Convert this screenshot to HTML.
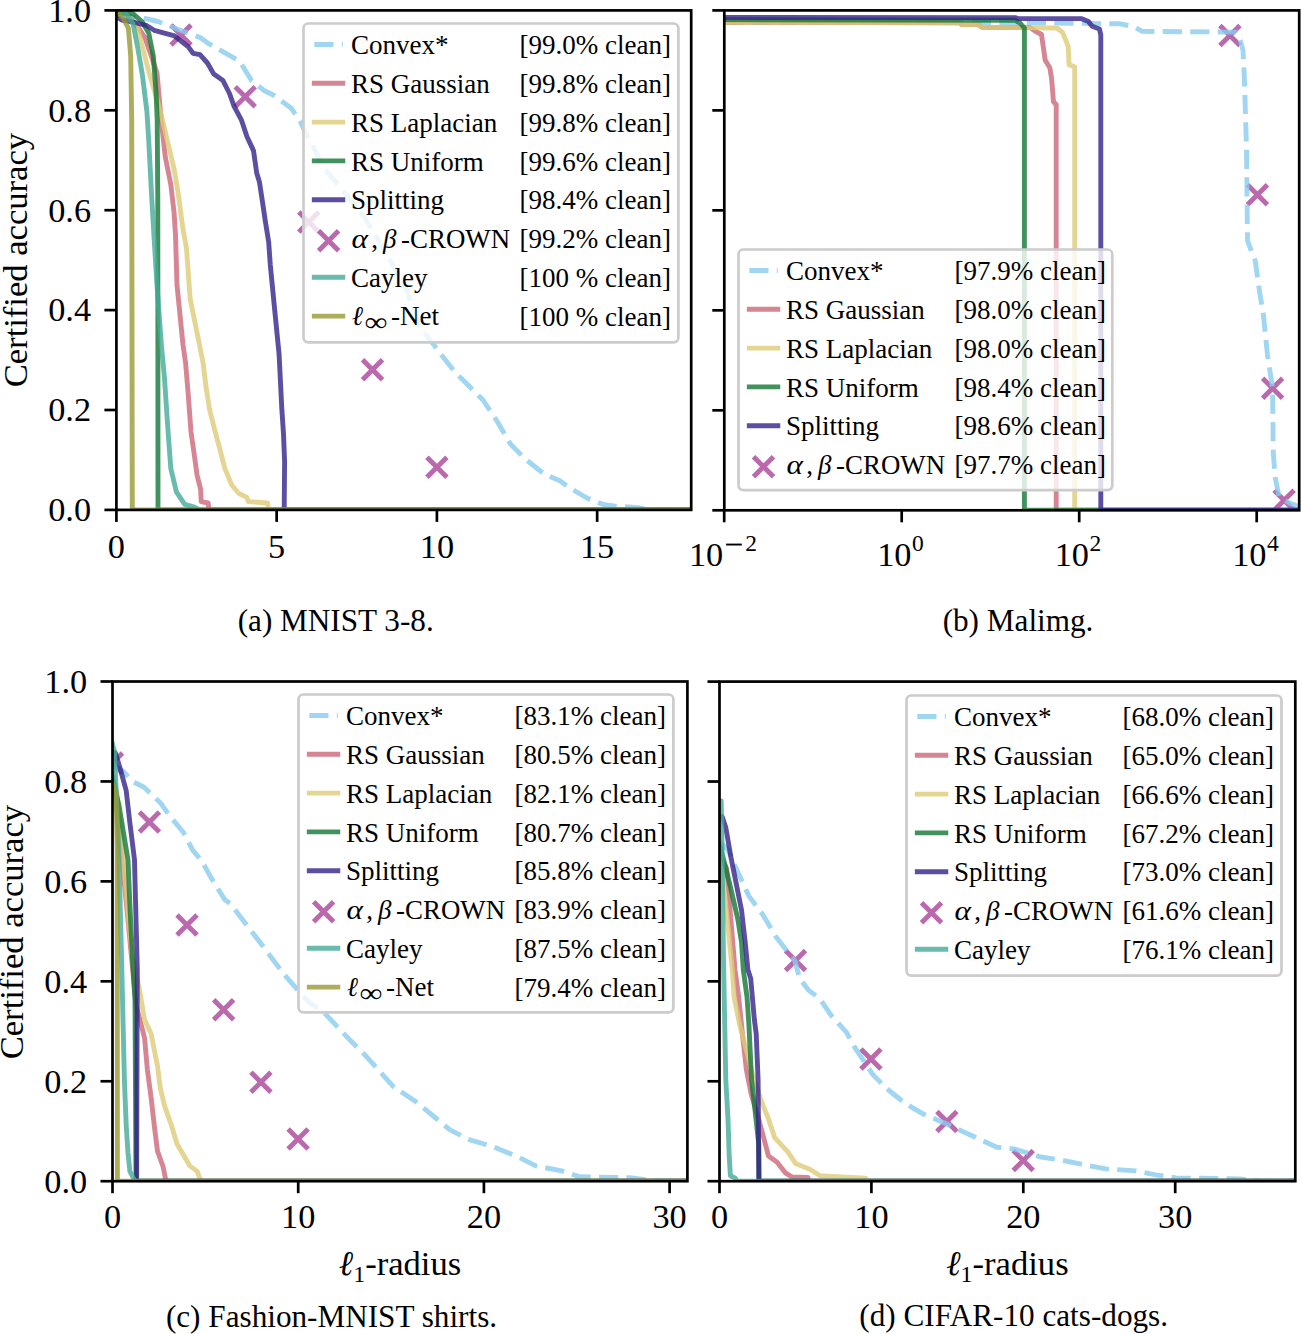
<!DOCTYPE html>
<html><head><meta charset="utf-8"><style>
html,body{margin:0;padding:0;background:#fff;width:1302px;height:1334px;overflow:hidden;}
svg{display:block;font-family:"Liberation Serif", serif;}
</style></head><body>
<svg width="1302" height="1334" viewBox="0 0 1302 1334" font-family='"Liberation Serif", serif'>
<rect x="0" y="0" width="1302" height="1334" fill="#ffffff"/>
<defs>
<clipPath id="clipa"><rect x="116.4" y="10.4" width="574.8" height="499.5"/></clipPath>
<clipPath id="clipb"><rect x="724.3" y="10.4" width="574.9" height="499.9"/></clipPath>
<clipPath id="clipc"><rect x="112.5" y="681.5" width="574.9" height="499.7"/></clipPath>
<clipPath id="clipd"><rect x="719.5" y="681.6" width="575.8" height="499.6"/></clipPath>
</defs>
<path d="M171.0,24.9 L191.0,44.9 M171.0,44.9 L191.0,24.9" stroke="#AA4499" stroke-opacity="0.8" stroke-width="4.9" stroke-linecap="butt" fill="none" clip-path="url(#clipa)"/>
<path d="M235.2,86.7 L255.2,106.7 M235.2,106.7 L255.2,86.7" stroke="#AA4499" stroke-opacity="0.8" stroke-width="4.9" stroke-linecap="butt" fill="none" clip-path="url(#clipa)"/>
<path d="M298.8,211.9 L318.8,231.9 M298.8,231.9 L318.8,211.9" stroke="#AA4499" stroke-opacity="0.8" stroke-width="4.9" stroke-linecap="butt" fill="none" clip-path="url(#clipa)"/>
<path d="M362.5,359.8 L382.5,379.8 M362.5,379.8 L382.5,359.8" stroke="#AA4499" stroke-opacity="0.8" stroke-width="4.9" stroke-linecap="butt" fill="none" clip-path="url(#clipa)"/>
<path d="M426.9,457.3 L446.9,477.3 M426.9,477.3 L446.9,457.3" stroke="#AA4499" stroke-opacity="0.8" stroke-width="4.9" stroke-linecap="butt" fill="none" clip-path="url(#clipa)"/>
<path d="M116.4,15.4 L141.3,17.4 L157.9,21.5 L174.5,28.0 L200.3,37.6 L207.4,42.8 L218.4,49.2 L239.6,61.2 L251.6,80.6 L264.5,90.7 L273.7,95.3 L291.2,108.2 L300.0,121.0 L308.0,138.0 L326.0,170.4 L344.0,192.0 L365.6,219.0 L387.2,255.0 L407.0,291.0 L419.6,327.0 L434.0,345.0 L440.6,354.0 L455.3,372.4 L470.0,387.1 L483.0,400.0 L497.7,422.2 L510.6,444.3 L525.3,459.0 L543.8,473.8 L560.0,480.8 L568.6,487.2 L586.9,498.0 L603.0,504.4 L613.8,506.0 L624.5,506.6 L638.5,507.6 L650.0,509.9 L700.0,509.9" fill="none" stroke="#88CCEE" stroke-opacity="0.8" stroke-width="4.9" stroke-linejoin="round" stroke-dasharray="19.2 8.3" stroke-linecap="butt" clip-path="url(#clipa)"/>
<path d="M116.4,11.4 L127.0,14.0 L137.6,26.6 L145.0,37.6 L157.0,72.7 L161.2,120.0 L165.3,156.9 L170.8,184.5 L174.0,212.0 L175.5,235.0 L177.0,285.0 L183.0,345.0 L185.6,363.0 L188.3,395.3 L191.0,432.0 L194.3,455.0 L197.1,475.3 L200.6,489.1 L201.2,501.6 L208.2,503.0 L208.9,509.9 L700.0,509.9" fill="none" stroke="#CC6677" stroke-opacity="0.8" stroke-width="4.9" stroke-linejoin="round" stroke-linecap="square" clip-path="url(#clipa)"/>
<path d="M116.4,11.4 L127.0,14.0 L137.6,28.4 L149.6,74.5 L157.9,102.2 L162.5,120.0 L169.0,147.6 L174.5,170.7 L178.2,193.7 L182.8,228.0 L186.5,248.4 L190.2,299.1 L198.5,340.0 L203.1,363.0 L205.9,386.1 L209.5,409.1 L214.1,427.6 L220.6,451.8 L224.8,468.4 L231.7,485.0 L238.6,493.3 L246.9,497.4 L248.3,501.6 L267.6,503.0 L268.3,509.9 L700.0,509.9" fill="none" stroke="#DDCC77" stroke-opacity="0.8" stroke-width="4.9" stroke-linejoin="round" stroke-linecap="square" clip-path="url(#clipa)"/>
<path d="M116.4,12.4 L133.0,13.7 L142.3,22.0 L148.7,33.0 L153.3,56.0 L156.1,93.0 L157.2,120.0 L157.8,200.0 L158.0,509.9 L700.0,509.9" fill="none" stroke="#117733" stroke-opacity="0.8" stroke-width="4.9" stroke-linejoin="round" stroke-linecap="square" clip-path="url(#clipa)"/>
<path d="M116.4,17.0 L122.0,20.1 L133.0,22.0 L146.9,25.7 L154.2,30.3 L174.5,35.8 L188.3,46.9 L193.0,53.3 L200.0,54.7 L207.4,63.0 L213.8,74.1 L223.0,80.6 L229.5,93.5 L234.1,106.4 L241.5,120.2 L247.0,136.8 L253.5,150.6 L256.7,173.0 L259.5,182.3 L262.3,200.7 L265.0,219.1 L268.7,242.2 L270.3,265.0 L275.1,314.0 L279.1,354.5 L281.8,408.4 L283.5,434.0 L284.6,461.5 L284.2,509.9 L700.0,509.9" fill="none" stroke="#332288" stroke-opacity="0.8" stroke-width="4.9" stroke-linejoin="round" stroke-linecap="square" clip-path="url(#clipa)"/>
<path d="M116.4,10.4 L125.7,12.8 L133.0,23.8 L137.6,46.9 L142.3,74.5 L146.9,111.4 L148.7,140.0 L151.5,193.7 L154.2,239.8 L157.0,285.3 L161.4,345.0 L164.4,376.9 L168.1,432.2 L170.8,468.4 L176.4,491.9 L184.7,504.3 L194.3,507.1 L200.0,509.9 L700.0,509.9" fill="none" stroke="#44AA99" stroke-opacity="0.8" stroke-width="4.9" stroke-linejoin="round" stroke-linecap="square" clip-path="url(#clipa)"/>
<path d="M116.4,10.4 L123.8,19.2 L128.4,28.4 L130.7,56.0 L131.7,120.0 L132.1,400.0 L132.3,509.9 L700.0,509.9" fill="none" stroke="#999933" stroke-opacity="0.8" stroke-width="4.9" stroke-linejoin="round" stroke-linecap="square" clip-path="url(#clipa)"/>
<rect x="116.4" y="10.4" width="574.8" height="499.5" fill="none" stroke="#000" stroke-width="2.7" stroke-linejoin="miter"/>
<line x1="104.4" y1="509.90" x2="116.4" y2="509.90" stroke="#000" stroke-width="2.7"/>
<line x1="104.4" y1="410.00" x2="116.4" y2="410.00" stroke="#000" stroke-width="2.7"/>
<line x1="104.4" y1="310.10" x2="116.4" y2="310.10" stroke="#000" stroke-width="2.7"/>
<line x1="104.4" y1="210.20" x2="116.4" y2="210.20" stroke="#000" stroke-width="2.7"/>
<line x1="104.4" y1="110.30" x2="116.4" y2="110.30" stroke="#000" stroke-width="2.7"/>
<line x1="104.4" y1="10.40" x2="116.4" y2="10.40" stroke="#000" stroke-width="2.7"/>
<rect x="303.5" y="23.5" width="374.9" height="318.9" rx="4.8" ry="4.8" fill="#ffffff" fill-opacity="0.8" stroke="#cccccc" stroke-width="2.7"/>
<path d="M314.3,44.5 L342.8,44.5" fill="none" stroke="#88CCEE" stroke-opacity="0.8" stroke-width="4.9" stroke-linejoin="round" stroke-dasharray="19.2 8.3" stroke-linecap="butt"/>
<text x="351.1" y="54.1" font-size="27.0" text-anchor="start">Convex*</text>
<text x="519.5" y="54.1" font-size="27.0" text-anchor="start">[99.0% clean]</text>
<path d="M314.3,83.3 L342.8,83.3" fill="none" stroke="#CC6677" stroke-opacity="0.8" stroke-width="4.9" stroke-linejoin="round" stroke-linecap="square"/>
<text x="351.1" y="92.9" font-size="27.0" text-anchor="start">RS Gaussian</text>
<text x="519.5" y="92.9" font-size="27.0" text-anchor="start">[99.8% clean]</text>
<path d="M314.3,122.1 L342.8,122.1" fill="none" stroke="#DDCC77" stroke-opacity="0.8" stroke-width="4.9" stroke-linejoin="round" stroke-linecap="square"/>
<text x="351.1" y="131.7" font-size="27.0" text-anchor="start">RS Laplacian</text>
<text x="519.5" y="131.7" font-size="27.0" text-anchor="start">[99.8% clean]</text>
<path d="M314.3,160.9 L342.8,160.9" fill="none" stroke="#117733" stroke-opacity="0.8" stroke-width="4.9" stroke-linejoin="round" stroke-linecap="square"/>
<text x="351.1" y="170.5" font-size="27.0" text-anchor="start">RS Uniform</text>
<text x="519.5" y="170.5" font-size="27.0" text-anchor="start">[99.6% clean]</text>
<path d="M314.3,199.7 L342.8,199.7" fill="none" stroke="#332288" stroke-opacity="0.8" stroke-width="4.9" stroke-linejoin="round" stroke-linecap="square"/>
<text x="351.1" y="209.3" font-size="27.0" text-anchor="start">Splitting</text>
<text x="519.5" y="209.3" font-size="27.0" text-anchor="start">[98.4% clean]</text>
<path d="M318.6,230.8 L338.6,250.8 M318.6,250.8 L338.6,230.8" stroke="#AA4499" stroke-opacity="0.8" stroke-width="4.9" stroke-linecap="butt" fill="none"/>
<text x="351.5" y="248.1" font-size="27.0" text-anchor="start" font-style="italic" textLength="16.5" lengthAdjust="spacingAndGlyphs">α</text>
<text x="371.3" y="248.1" font-size="27.0" text-anchor="start">,</text>
<text x="383.0" y="248.1" font-size="27.0" text-anchor="start" font-style="italic">β</text>
<text x="401.1" y="248.1" font-size="27.0" text-anchor="start" textLength="109" lengthAdjust="spacingAndGlyphs">-CROWN</text>
<text x="519.5" y="248.1" font-size="27.0" text-anchor="start">[99.2% clean]</text>
<path d="M314.3,277.3 L342.8,277.3" fill="none" stroke="#44AA99" stroke-opacity="0.8" stroke-width="4.9" stroke-linejoin="round" stroke-linecap="square"/>
<text x="351.1" y="286.9" font-size="27.0" text-anchor="start">Cayley</text>
<text x="519.5" y="286.9" font-size="27.0" text-anchor="start">[100 % clean]</text>
<path d="M314.3,316.1 L342.8,316.1" fill="none" stroke="#999933" stroke-opacity="0.8" stroke-width="4.9" stroke-linejoin="round" stroke-linecap="square"/>
<text x="351.8" y="324.9" font-size="27.0" text-anchor="start" font-style="italic">ℓ</text>
<text x="364.5" y="330.7" font-size="27.0" text-anchor="start" textLength="23" lengthAdjust="spacingAndGlyphs">∞</text>
<text x="391.0" y="324.9" font-size="27.0" text-anchor="start">-Net</text>
<text x="519.5" y="325.7" font-size="27.0" text-anchor="start">[100 % clean]</text>
<path d="M1219.9,25.6 L1239.9,45.6 M1219.9,45.6 L1239.9,25.6" stroke="#AA4499" stroke-opacity="0.8" stroke-width="4.9" stroke-linecap="butt" fill="none" clip-path="url(#clipb)"/>
<path d="M1247.4,184.8 L1267.4,204.8 M1247.4,204.8 L1267.4,184.8" stroke="#AA4499" stroke-opacity="0.8" stroke-width="4.9" stroke-linecap="butt" fill="none" clip-path="url(#clipb)"/>
<path d="M1262.6,378.2 L1282.6,398.2 M1262.6,398.2 L1282.6,378.2" stroke="#AA4499" stroke-opacity="0.8" stroke-width="4.9" stroke-linecap="butt" fill="none" clip-path="url(#clipb)"/>
<path d="M1274.1,490.3 L1294.1,510.3 M1274.1,510.3 L1294.1,490.3" stroke="#AA4499" stroke-opacity="0.8" stroke-width="4.9" stroke-linecap="butt" fill="none" clip-path="url(#clipb)"/>
<path d="M724.3,22.5 L1000.0,22.5 L1120.0,23.8 L1133.8,26.6 L1142.1,31.4 L1236.1,32.1 L1240.3,40.4 L1243.0,50.1 L1244.4,79.1 L1246.5,148.3 L1247.5,240.7 L1255.3,261.0 L1259.4,290.7 L1263.4,315.0 L1267.5,355.0 L1272.6,388.2 L1273.2,451.9 L1275.2,477.4 L1279.0,496.5 L1289.2,502.9 L1295.5,505.4 L1310.0,510.3" fill="none" stroke="#88CCEE" stroke-opacity="0.8" stroke-width="4.9" stroke-linejoin="round" stroke-dasharray="19.2 8.3" stroke-linecap="butt" clip-path="url(#clipb)"/>
<path d="M724.3,22.2 L959.0,22.7 L962.0,24.6 L978.0,24.6 L982.0,27.3 L1030.0,27.5 L1035.0,31.0 L1041.5,34.5 L1045.2,60.3 L1049.8,67.7 L1051.6,78.7 L1053.5,101.8 L1056.2,104.5 L1056.2,510.3 L1310.0,510.3" fill="none" stroke="#CC6677" stroke-opacity="0.8" stroke-width="4.9" stroke-linejoin="round" stroke-linecap="square" clip-path="url(#clipb)"/>
<path d="M724.3,22.2 L959.0,22.7 L962.0,24.6 L978.0,24.6 L982.0,27.3 L1057.1,28.0 L1062.7,32.6 L1068.2,46.5 L1069.1,64.9 L1074.7,66.8 L1074.7,510.3 L1310.0,510.3" fill="none" stroke="#DDCC77" stroke-opacity="0.8" stroke-width="4.9" stroke-linejoin="round" stroke-linecap="square" clip-path="url(#clipb)"/>
<path d="M724.3,19.6 L1015.0,20.2 L1020.0,23.0 L1024.4,28.0 L1024.4,510.3 L1310.0,510.3" fill="none" stroke="#117733" stroke-opacity="0.8" stroke-width="4.9" stroke-linejoin="round" stroke-linecap="square" clip-path="url(#clipb)"/>
<path d="M724.3,17.4 L1015.0,17.6 L1018.0,18.6 L1081.1,18.6 L1088.5,21.6 L1092.2,26.2 L1099.5,29.0 L1100.8,35.0 L1100.8,510.3 L1310.0,510.3" fill="none" stroke="#332288" stroke-opacity="0.8" stroke-width="4.9" stroke-linejoin="round" stroke-linecap="square" clip-path="url(#clipb)"/>
<rect x="724.3" y="10.4" width="574.9" height="499.9" fill="none" stroke="#000" stroke-width="2.7" stroke-linejoin="miter"/>
<line x1="712.3" y1="510.30" x2="724.3" y2="510.30" stroke="#000" stroke-width="2.7"/>
<line x1="712.3" y1="410.32" x2="724.3" y2="410.32" stroke="#000" stroke-width="2.7"/>
<line x1="712.3" y1="310.34" x2="724.3" y2="310.34" stroke="#000" stroke-width="2.7"/>
<line x1="712.3" y1="210.36" x2="724.3" y2="210.36" stroke="#000" stroke-width="2.7"/>
<line x1="712.3" y1="110.38" x2="724.3" y2="110.38" stroke="#000" stroke-width="2.7"/>
<line x1="712.3" y1="10.40" x2="724.3" y2="10.40" stroke="#000" stroke-width="2.7"/>
<rect x="738.5" y="249.5" width="373.8" height="240.6" rx="4.8" ry="4.8" fill="#ffffff" fill-opacity="0.8" stroke="#cccccc" stroke-width="2.7"/>
<path d="M749.3,270.5 L777.8,270.5" fill="none" stroke="#88CCEE" stroke-opacity="0.8" stroke-width="4.9" stroke-linejoin="round" stroke-dasharray="19.2 8.3" stroke-linecap="butt"/>
<text x="786.1" y="280.1" font-size="27.0" text-anchor="start">Convex*</text>
<text x="954.5" y="280.1" font-size="27.0" text-anchor="start">[97.9% clean]</text>
<path d="M749.3,309.3 L777.8,309.3" fill="none" stroke="#CC6677" stroke-opacity="0.8" stroke-width="4.9" stroke-linejoin="round" stroke-linecap="square"/>
<text x="786.1" y="318.9" font-size="27.0" text-anchor="start">RS Gaussian</text>
<text x="954.5" y="318.9" font-size="27.0" text-anchor="start">[98.0% clean]</text>
<path d="M749.3,348.1 L777.8,348.1" fill="none" stroke="#DDCC77" stroke-opacity="0.8" stroke-width="4.9" stroke-linejoin="round" stroke-linecap="square"/>
<text x="786.1" y="357.7" font-size="27.0" text-anchor="start">RS Laplacian</text>
<text x="954.5" y="357.7" font-size="27.0" text-anchor="start">[98.0% clean]</text>
<path d="M749.3,386.9 L777.8,386.9" fill="none" stroke="#117733" stroke-opacity="0.8" stroke-width="4.9" stroke-linejoin="round" stroke-linecap="square"/>
<text x="786.1" y="396.5" font-size="27.0" text-anchor="start">RS Uniform</text>
<text x="954.5" y="396.5" font-size="27.0" text-anchor="start">[98.4% clean]</text>
<path d="M749.3,425.7 L777.8,425.7" fill="none" stroke="#332288" stroke-opacity="0.8" stroke-width="4.9" stroke-linejoin="round" stroke-linecap="square"/>
<text x="786.1" y="435.3" font-size="27.0" text-anchor="start">Splitting</text>
<text x="954.5" y="435.3" font-size="27.0" text-anchor="start">[98.6% clean]</text>
<path d="M753.5,456.8 L773.5,476.8 M753.5,476.8 L773.5,456.8" stroke="#AA4499" stroke-opacity="0.8" stroke-width="4.9" stroke-linecap="butt" fill="none"/>
<text x="786.5" y="474.1" font-size="27.0" text-anchor="start" font-style="italic" textLength="16.5" lengthAdjust="spacingAndGlyphs">α</text>
<text x="806.3" y="474.1" font-size="27.0" text-anchor="start">,</text>
<text x="818.0" y="474.1" font-size="27.0" text-anchor="start" font-style="italic">β</text>
<text x="836.1" y="474.1" font-size="27.0" text-anchor="start" textLength="109" lengthAdjust="spacingAndGlyphs">-CROWN</text>
<text x="954.5" y="474.1" font-size="27.0" text-anchor="start">[97.7% clean]</text>
<path d="M102.5,753.0 L122.5,773.0 M102.5,773.0 L122.5,753.0" stroke="#AA4499" stroke-opacity="0.8" stroke-width="4.9" stroke-linecap="butt" fill="none" clip-path="url(#clipc)"/>
<path d="M139.4,812.0 L159.4,832.0 M139.4,832.0 L159.4,812.0" stroke="#AA4499" stroke-opacity="0.8" stroke-width="4.9" stroke-linecap="butt" fill="none" clip-path="url(#clipc)"/>
<path d="M177.0,915.1 L197.0,935.1 M177.0,935.1 L197.0,915.1" stroke="#AA4499" stroke-opacity="0.8" stroke-width="4.9" stroke-linecap="butt" fill="none" clip-path="url(#clipc)"/>
<path d="M213.6,999.8 L233.6,1019.8 M213.6,1019.8 L233.6,999.8" stroke="#AA4499" stroke-opacity="0.8" stroke-width="4.9" stroke-linecap="butt" fill="none" clip-path="url(#clipc)"/>
<path d="M250.9,1072.2 L270.9,1092.2 M250.9,1092.2 L270.9,1072.2" stroke="#AA4499" stroke-opacity="0.8" stroke-width="4.9" stroke-linecap="butt" fill="none" clip-path="url(#clipc)"/>
<path d="M288.1,1129.0 L308.1,1149.0 M288.1,1149.0 L308.1,1129.0" stroke="#AA4499" stroke-opacity="0.8" stroke-width="4.9" stroke-linecap="butt" fill="none" clip-path="url(#clipc)"/>
<path d="M112.5,766.0 L123.4,771.3 L132.6,781.5 L143.7,787.0 L160.3,802.7 L169.5,815.6 L183.3,832.2 L192.6,850.0 L201.8,861.0 L211.0,877.6 L224.8,899.8 L230.4,903.7 L245.7,923.8 L265.7,949.9 L284.1,974.5 L307.2,1000.6 L326.0,1014.6 L347.5,1037.6 L366.0,1056.1 L393.6,1086.8 L416.7,1102.2 L435.1,1117.5 L450.0,1129.9 L469.9,1139.9 L493.9,1146.9 L517.9,1156.9 L535.8,1165.9 L561.8,1170.9 L579.8,1176.8 L629.7,1177.8 L660.0,1181.2 L700.0,1181.2" fill="none" stroke="#88CCEE" stroke-opacity="0.8" stroke-width="4.9" stroke-linejoin="round" stroke-dasharray="19.2 8.3" stroke-linecap="butt" clip-path="url(#clipc)"/>
<path d="M112.5,779.0 L116.0,800.0 L121.0,850.0 L128.0,920.0 L136.0,1005.0 L140.0,1019.9 L144.6,1038.3 L147.4,1070.0 L151.1,1097.6 L154.8,1129.9 L157.5,1151.1 L163.1,1166.8 L165.4,1178.3 L166.0,1181.2 L700.0,1181.2" fill="none" stroke="#CC6677" stroke-opacity="0.8" stroke-width="4.9" stroke-linejoin="round" stroke-linecap="square" clip-path="url(#clipc)"/>
<path d="M112.5,771.0 L117.0,795.0 L122.5,850.0 L129.0,923.7 L133.0,960.0 L139.1,987.6 L144.6,1019.9 L151.1,1033.7 L157.5,1066.0 L160.3,1088.4 L164.9,1106.9 L171.4,1125.3 L176.9,1143.7 L183.3,1154.8 L189.8,1165.9 L197.2,1171.4 L199.9,1178.3 L200.5,1181.2 L700.0,1181.2" fill="none" stroke="#DDCC77" stroke-opacity="0.8" stroke-width="4.9" stroke-linejoin="round" stroke-linecap="square" clip-path="url(#clipc)"/>
<path d="M112.5,778.0 L118.8,804.5 L128.0,859.8 L129.9,905.3 L132.6,960.0 L135.0,1000.0 L136.0,1181.2 L700.0,1181.2" fill="none" stroke="#117733" stroke-opacity="0.8" stroke-width="4.9" stroke-linejoin="round" stroke-linecap="square" clip-path="url(#clipc)"/>
<path d="M112.5,752.5 L115.3,752.6 L120.5,769.8 L126.2,790.7 L129.9,823.0 L134.5,859.8 L135.4,896.0 L137.3,969.8 L136.6,1181.2 L700.0,1181.2" fill="none" stroke="#332288" stroke-opacity="0.8" stroke-width="4.9" stroke-linejoin="round" stroke-linecap="square" clip-path="url(#clipc)"/>
<path d="M112.5,744.0 L114.5,752.0 L118.8,850.0 L121.6,960.0 L124.4,1079.8 L126.2,1125.3 L128.0,1153.0 L129.9,1171.4 L133.6,1178.3 L135.0,1181.2 L700.0,1181.2" fill="none" stroke="#44AA99" stroke-opacity="0.8" stroke-width="4.9" stroke-linejoin="round" stroke-linecap="square" clip-path="url(#clipc)"/>
<path d="M112.5,784.0 L116.2,795.0 L117.2,850.0 L117.4,1181.2 L700.0,1181.2" fill="none" stroke="#999933" stroke-opacity="0.8" stroke-width="4.9" stroke-linejoin="round" stroke-linecap="square" clip-path="url(#clipc)"/>
<rect x="112.5" y="681.5" width="574.9" height="499.7" fill="none" stroke="#000" stroke-width="2.7" stroke-linejoin="miter"/>
<line x1="100.5" y1="1181.20" x2="112.5" y2="1181.20" stroke="#000" stroke-width="2.7"/>
<line x1="100.5" y1="1081.26" x2="112.5" y2="1081.26" stroke="#000" stroke-width="2.7"/>
<line x1="100.5" y1="981.32" x2="112.5" y2="981.32" stroke="#000" stroke-width="2.7"/>
<line x1="100.5" y1="881.38" x2="112.5" y2="881.38" stroke="#000" stroke-width="2.7"/>
<line x1="100.5" y1="781.44" x2="112.5" y2="781.44" stroke="#000" stroke-width="2.7"/>
<line x1="100.5" y1="681.50" x2="112.5" y2="681.50" stroke="#000" stroke-width="2.7"/>
<rect x="298.5" y="694.5" width="374.9" height="317.9" rx="4.8" ry="4.8" fill="#ffffff" fill-opacity="0.8" stroke="#cccccc" stroke-width="2.7"/>
<path d="M309.3,715.5 L337.8,715.5" fill="none" stroke="#88CCEE" stroke-opacity="0.8" stroke-width="4.9" stroke-linejoin="round" stroke-dasharray="19.2 8.3" stroke-linecap="butt"/>
<text x="346.1" y="725.1" font-size="27.0" text-anchor="start">Convex*</text>
<text x="514.5" y="725.1" font-size="27.0" text-anchor="start">[83.1% clean]</text>
<path d="M309.3,754.3 L337.8,754.3" fill="none" stroke="#CC6677" stroke-opacity="0.8" stroke-width="4.9" stroke-linejoin="round" stroke-linecap="square"/>
<text x="346.1" y="763.9" font-size="27.0" text-anchor="start">RS Gaussian</text>
<text x="514.5" y="763.9" font-size="27.0" text-anchor="start">[80.5% clean]</text>
<path d="M309.3,793.1 L337.8,793.1" fill="none" stroke="#DDCC77" stroke-opacity="0.8" stroke-width="4.9" stroke-linejoin="round" stroke-linecap="square"/>
<text x="346.1" y="802.7" font-size="27.0" text-anchor="start">RS Laplacian</text>
<text x="514.5" y="802.7" font-size="27.0" text-anchor="start">[82.1% clean]</text>
<path d="M309.3,831.9 L337.8,831.9" fill="none" stroke="#117733" stroke-opacity="0.8" stroke-width="4.9" stroke-linejoin="round" stroke-linecap="square"/>
<text x="346.1" y="841.5" font-size="27.0" text-anchor="start">RS Uniform</text>
<text x="514.5" y="841.5" font-size="27.0" text-anchor="start">[80.7% clean]</text>
<path d="M309.3,870.7 L337.8,870.7" fill="none" stroke="#332288" stroke-opacity="0.8" stroke-width="4.9" stroke-linejoin="round" stroke-linecap="square"/>
<text x="346.1" y="880.3" font-size="27.0" text-anchor="start">Splitting</text>
<text x="514.5" y="880.3" font-size="27.0" text-anchor="start">[85.8% clean]</text>
<path d="M313.6,901.8 L333.6,921.8 M313.6,921.8 L333.6,901.8" stroke="#AA4499" stroke-opacity="0.8" stroke-width="4.9" stroke-linecap="butt" fill="none"/>
<text x="346.5" y="919.1" font-size="27.0" text-anchor="start" font-style="italic" textLength="16.5" lengthAdjust="spacingAndGlyphs">α</text>
<text x="366.3" y="919.1" font-size="27.0" text-anchor="start">,</text>
<text x="378.0" y="919.1" font-size="27.0" text-anchor="start" font-style="italic">β</text>
<text x="396.1" y="919.1" font-size="27.0" text-anchor="start" textLength="109" lengthAdjust="spacingAndGlyphs">-CROWN</text>
<text x="514.5" y="919.1" font-size="27.0" text-anchor="start">[83.9% clean]</text>
<path d="M309.3,948.3 L337.8,948.3" fill="none" stroke="#44AA99" stroke-opacity="0.8" stroke-width="4.9" stroke-linejoin="round" stroke-linecap="square"/>
<text x="346.1" y="957.9" font-size="27.0" text-anchor="start">Cayley</text>
<text x="514.5" y="957.9" font-size="27.0" text-anchor="start">[87.5% clean]</text>
<path d="M309.3,987.1 L337.8,987.1" fill="none" stroke="#999933" stroke-opacity="0.8" stroke-width="4.9" stroke-linejoin="round" stroke-linecap="square"/>
<text x="346.8" y="995.9" font-size="27.0" text-anchor="start" font-style="italic">ℓ</text>
<text x="359.5" y="1001.7" font-size="27.0" text-anchor="start" textLength="23" lengthAdjust="spacingAndGlyphs">∞</text>
<text x="386.0" y="995.9" font-size="27.0" text-anchor="start">-Net</text>
<text x="514.5" y="996.7" font-size="27.0" text-anchor="start">[79.4% clean]</text>
<path d="M785.5,950.6 L805.5,970.6 M785.5,970.6 L805.5,950.6" stroke="#AA4499" stroke-opacity="0.8" stroke-width="4.9" stroke-linecap="butt" fill="none" clip-path="url(#clipd)"/>
<path d="M860.9,1048.9 L880.9,1068.9 M860.9,1068.9 L880.9,1048.9" stroke="#AA4499" stroke-opacity="0.8" stroke-width="4.9" stroke-linecap="butt" fill="none" clip-path="url(#clipd)"/>
<path d="M936.9,1111.6 L956.9,1131.6 M936.9,1131.6 L956.9,1111.6" stroke="#AA4499" stroke-opacity="0.8" stroke-width="4.9" stroke-linecap="butt" fill="none" clip-path="url(#clipd)"/>
<path d="M1013.2,1150.5 L1033.2,1170.5 M1013.2,1170.5 L1033.2,1150.5" stroke="#AA4499" stroke-opacity="0.8" stroke-width="4.9" stroke-linecap="butt" fill="none" clip-path="url(#clipd)"/>
<path d="M719.5,841.5 L728.0,850.0 L733.2,862.0 L739.6,875.8 L748.9,896.1 L762.7,914.5 L776.5,937.6 L795.0,961.0 L799.6,978.4 L808.8,990.4 L820.0,998.8 L830.6,1014.7 L846.5,1032.4 L855.3,1048.3 L873.0,1074.8 L887.1,1088.9 L904.8,1103.1 L922.5,1113.7 L947.2,1124.3 L970.2,1134.9 L996.7,1147.2 L1014.3,1149.0 L1040.8,1157.0 L1060.0,1159.9 L1080.0,1163.9 L1105.9,1168.9 L1135.8,1170.9 L1155.8,1174.9 L1175.8,1177.9 L1239.7,1178.9 L1260.0,1181.2 L1310.0,1181.2" fill="none" stroke="#88CCEE" stroke-opacity="0.8" stroke-width="4.9" stroke-linejoin="round" stroke-dasharray="19.2 8.3" stroke-linecap="butt" clip-path="url(#clipd)"/>
<path d="M719.5,856.5 L722.0,860.0 L726.7,868.4 L735.0,969.8 L738.7,996.9 L742.4,1033.7 L746.4,1070.0 L751.3,1094.6 L758.7,1119.2 L768.5,1156.0 L777.1,1162.2 L785.7,1173.2 L791.9,1176.9 L807.9,1177.5 L809.0,1181.2 L1310.0,1181.2" fill="none" stroke="#CC6677" stroke-opacity="0.8" stroke-width="4.9" stroke-linejoin="round" stroke-linecap="square" clip-path="url(#clipd)"/>
<path d="M719.5,848.5 L724.9,896.0 L732.3,969.8 L734.1,996.9 L739.6,1024.5 L747.0,1052.2 L751.3,1070.0 L761.2,1100.7 L768.5,1119.2 L774.7,1137.6 L788.2,1152.3 L795.6,1163.4 L810.3,1169.5 L820.1,1175.7 L841.0,1176.9 L865.6,1178.1 L867.0,1181.2 L1310.0,1181.2" fill="none" stroke="#DDCC77" stroke-opacity="0.8" stroke-width="4.9" stroke-linejoin="round" stroke-linecap="square" clip-path="url(#clipd)"/>
<path d="M719.5,845.5 L721.2,850.0 L730.4,886.9 L737.8,919.1 L741.5,942.2 L743.3,969.8 L747.0,996.9 L748.9,1024.5 L751.6,1079.8 L755.0,1110.0 L758.7,1143.7 L759.0,1181.2 L1310.0,1181.2" fill="none" stroke="#117733" stroke-opacity="0.8" stroke-width="4.9" stroke-linejoin="round" stroke-linecap="square" clip-path="url(#clipd)"/>
<path d="M719.5,816.5 L722.1,816.5 L725.8,827.6 L731.4,859.8 L735.0,877.6 L741.5,909.9 L745.2,942.2 L747.9,969.8 L750.7,978.4 L754.4,1019.9 L756.2,1033.7 L758.1,1079.8 L758.9,1181.2 L1310.0,1181.2" fill="none" stroke="#332288" stroke-opacity="0.8" stroke-width="4.9" stroke-linejoin="round" stroke-linecap="square" clip-path="url(#clipd)"/>
<path d="M719.5,801.0 L721.2,801.0 L722.1,850.0 L723.5,960.0 L725.8,1079.8 L728.0,1119.2 L729.2,1156.0 L730.4,1175.7 L735.3,1178.1 L737.0,1181.2 L1310.0,1181.2" fill="none" stroke="#44AA99" stroke-opacity="0.8" stroke-width="4.9" stroke-linejoin="round" stroke-linecap="square" clip-path="url(#clipd)"/>
<rect x="719.5" y="681.6" width="575.8" height="499.6" fill="none" stroke="#000" stroke-width="2.7" stroke-linejoin="miter"/>
<line x1="707.5" y1="1181.20" x2="719.5" y2="1181.20" stroke="#000" stroke-width="2.7"/>
<line x1="707.5" y1="1081.28" x2="719.5" y2="1081.28" stroke="#000" stroke-width="2.7"/>
<line x1="707.5" y1="981.36" x2="719.5" y2="981.36" stroke="#000" stroke-width="2.7"/>
<line x1="707.5" y1="881.44" x2="719.5" y2="881.44" stroke="#000" stroke-width="2.7"/>
<line x1="707.5" y1="781.52" x2="719.5" y2="781.52" stroke="#000" stroke-width="2.7"/>
<line x1="707.5" y1="681.60" x2="719.5" y2="681.60" stroke="#000" stroke-width="2.7"/>
<rect x="906.5" y="695.5" width="375.0" height="280.1" rx="4.8" ry="4.8" fill="#ffffff" fill-opacity="0.8" stroke="#cccccc" stroke-width="2.7"/>
<path d="M917.3,716.5 L945.8,716.5" fill="none" stroke="#88CCEE" stroke-opacity="0.8" stroke-width="4.9" stroke-linejoin="round" stroke-dasharray="19.2 8.3" stroke-linecap="butt"/>
<text x="954.1" y="726.1" font-size="27.0" text-anchor="start">Convex*</text>
<text x="1122.5" y="726.1" font-size="27.0" text-anchor="start">[68.0% clean]</text>
<path d="M917.3,755.3 L945.8,755.3" fill="none" stroke="#CC6677" stroke-opacity="0.8" stroke-width="4.9" stroke-linejoin="round" stroke-linecap="square"/>
<text x="954.1" y="764.9" font-size="27.0" text-anchor="start">RS Gaussian</text>
<text x="1122.5" y="764.9" font-size="27.0" text-anchor="start">[65.0% clean]</text>
<path d="M917.3,794.1 L945.8,794.1" fill="none" stroke="#DDCC77" stroke-opacity="0.8" stroke-width="4.9" stroke-linejoin="round" stroke-linecap="square"/>
<text x="954.1" y="803.7" font-size="27.0" text-anchor="start">RS Laplacian</text>
<text x="1122.5" y="803.7" font-size="27.0" text-anchor="start">[66.6% clean]</text>
<path d="M917.3,832.9 L945.8,832.9" fill="none" stroke="#117733" stroke-opacity="0.8" stroke-width="4.9" stroke-linejoin="round" stroke-linecap="square"/>
<text x="954.1" y="842.5" font-size="27.0" text-anchor="start">RS Uniform</text>
<text x="1122.5" y="842.5" font-size="27.0" text-anchor="start">[67.2% clean]</text>
<path d="M917.3,871.7 L945.8,871.7" fill="none" stroke="#332288" stroke-opacity="0.8" stroke-width="4.9" stroke-linejoin="round" stroke-linecap="square"/>
<text x="954.1" y="881.3" font-size="27.0" text-anchor="start">Splitting</text>
<text x="1122.5" y="881.3" font-size="27.0" text-anchor="start">[73.0% clean]</text>
<path d="M921.5,902.8 L941.5,922.8 M921.5,922.8 L941.5,902.8" stroke="#AA4499" stroke-opacity="0.8" stroke-width="4.9" stroke-linecap="butt" fill="none"/>
<text x="954.5" y="920.1" font-size="27.0" text-anchor="start" font-style="italic" textLength="16.5" lengthAdjust="spacingAndGlyphs">α</text>
<text x="974.3" y="920.1" font-size="27.0" text-anchor="start">,</text>
<text x="986.0" y="920.1" font-size="27.0" text-anchor="start" font-style="italic">β</text>
<text x="1004.1" y="920.1" font-size="27.0" text-anchor="start" textLength="109" lengthAdjust="spacingAndGlyphs">-CROWN</text>
<text x="1122.5" y="920.1" font-size="27.0" text-anchor="start">[61.6% clean]</text>
<path d="M917.3,949.3 L945.8,949.3" fill="none" stroke="#44AA99" stroke-opacity="0.8" stroke-width="4.9" stroke-linejoin="round" stroke-linecap="square"/>
<text x="954.1" y="958.9" font-size="27.0" text-anchor="start">Cayley</text>
<text x="1122.5" y="958.9" font-size="27.0" text-anchor="start">[76.1% clean]</text>
<text x="91.1" y="521.2" font-size="34.3" text-anchor="end">0.0</text>
<text x="91.1" y="421.3" font-size="34.3" text-anchor="end">0.2</text>
<text x="91.1" y="321.4" font-size="34.3" text-anchor="end">0.4</text>
<text x="91.1" y="221.5" font-size="34.3" text-anchor="end">0.6</text>
<text x="91.1" y="121.6" font-size="34.3" text-anchor="end">0.8</text>
<text x="91.1" y="21.7" font-size="34.3" text-anchor="end">1.0</text>
<text x="87.2" y="1192.5" font-size="34.3" text-anchor="end">0.0</text>
<text x="87.2" y="1092.6" font-size="34.3" text-anchor="end">0.2</text>
<text x="87.2" y="992.6" font-size="34.3" text-anchor="end">0.4</text>
<text x="87.2" y="892.7" font-size="34.3" text-anchor="end">0.6</text>
<text x="87.2" y="792.7" font-size="34.3" text-anchor="end">0.8</text>
<text x="87.2" y="692.8" font-size="34.3" text-anchor="end">1.0</text>
<line x1="116.40" y1="509.9" x2="116.40" y2="521.9" stroke="#000" stroke-width="2.7"/>
<text x="116.4" y="557.5" font-size="34.3" text-anchor="middle">0</text>
<line x1="276.65" y1="509.9" x2="276.65" y2="521.9" stroke="#000" stroke-width="2.7"/>
<text x="276.6" y="557.5" font-size="34.3" text-anchor="middle">5</text>
<line x1="436.90" y1="509.9" x2="436.90" y2="521.9" stroke="#000" stroke-width="2.7"/>
<text x="436.9" y="557.5" font-size="34.3" text-anchor="middle">10</text>
<line x1="597.15" y1="509.9" x2="597.15" y2="521.9" stroke="#000" stroke-width="2.7"/>
<text x="597.1" y="557.5" font-size="34.3" text-anchor="middle">15</text>
<line x1="724.20" y1="510.3" x2="724.20" y2="522.3" stroke="#000" stroke-width="2.7"/>
<text x="723.2" y="565.5" font-size="34.3" text-anchor="end">10</text>
<rect x="726.1" y="543.6" width="15.7" height="1.9" fill="#000"/>
<text x="745.2" y="551.3" font-size="23.5" text-anchor="start">2</text>
<line x1="901.70" y1="510.3" x2="901.70" y2="522.3" stroke="#000" stroke-width="2.7"/>
<text x="911.5" y="565.5" font-size="34.3" text-anchor="end">10</text>
<text x="912.0" y="551.3" font-size="23.5" text-anchor="start">0</text>
<line x1="1079.20" y1="510.3" x2="1079.20" y2="522.3" stroke="#000" stroke-width="2.7"/>
<text x="1089.0" y="565.5" font-size="34.3" text-anchor="end">10</text>
<text x="1089.5" y="551.3" font-size="23.5" text-anchor="start">2</text>
<line x1="1256.70" y1="510.3" x2="1256.70" y2="522.3" stroke="#000" stroke-width="2.7"/>
<text x="1266.5" y="565.5" font-size="34.3" text-anchor="end">10</text>
<text x="1267.0" y="551.3" font-size="23.5" text-anchor="start">4</text>
<line x1="112.50" y1="1181.2" x2="112.50" y2="1193.2" stroke="#000" stroke-width="2.7"/>
<text x="112.5" y="1228.2" font-size="34.3" text-anchor="middle">0</text>
<line x1="298.20" y1="1181.2" x2="298.20" y2="1193.2" stroke="#000" stroke-width="2.7"/>
<text x="298.2" y="1228.2" font-size="34.3" text-anchor="middle">10</text>
<line x1="483.90" y1="1181.2" x2="483.90" y2="1193.2" stroke="#000" stroke-width="2.7"/>
<text x="483.9" y="1228.2" font-size="34.3" text-anchor="middle">20</text>
<line x1="669.60" y1="1181.2" x2="669.60" y2="1193.2" stroke="#000" stroke-width="2.7"/>
<text x="669.6" y="1228.2" font-size="34.3" text-anchor="middle">30</text>
<line x1="719.50" y1="1181.2" x2="719.50" y2="1193.2" stroke="#000" stroke-width="2.7"/>
<text x="719.5" y="1228.2" font-size="34.3" text-anchor="middle">0</text>
<line x1="871.40" y1="1181.2" x2="871.40" y2="1193.2" stroke="#000" stroke-width="2.7"/>
<text x="871.4" y="1228.2" font-size="34.3" text-anchor="middle">10</text>
<line x1="1023.30" y1="1181.2" x2="1023.30" y2="1193.2" stroke="#000" stroke-width="2.7"/>
<text x="1023.3" y="1228.2" font-size="34.3" text-anchor="middle">20</text>
<line x1="1175.20" y1="1181.2" x2="1175.20" y2="1193.2" stroke="#000" stroke-width="2.7"/>
<text x="1175.2" y="1228.2" font-size="34.3" text-anchor="middle">30</text>
<text x="0" y="0" font-size="34.6" text-anchor="middle" transform="translate(27.3,260.1) rotate(-90)">Certified accuracy</text>
<text x="0" y="0" font-size="34.6" text-anchor="middle" transform="translate(22.5,932.1) rotate(-90)">Certified accuracy</text>
<text x="400.0" y="1274.5" font-size="34.6" text-anchor="middle"><tspan font-style="italic">ℓ</tspan><tspan font-size="24" dy="7">1</tspan><tspan dy="-7">-radius</tspan></text>
<text x="1007.4" y="1274.5" font-size="34.6" text-anchor="middle"><tspan font-style="italic">ℓ</tspan><tspan font-size="24" dy="7">1</tspan><tspan dy="-7">-radius</tspan></text>
<text x="335.7" y="631.2" font-size="31.2" text-anchor="middle">(a) MNIST 3-8.</text>
<text x="1018.0" y="630.8" font-size="31.2" text-anchor="middle">(b) Malimg.</text>
<text x="331.5" y="1326.5" font-size="31.2" text-anchor="middle">(c) Fashion-MNIST shirts.</text>
<text x="1013.7" y="1325.6" font-size="31.2" text-anchor="middle">(d) CIFAR-10 cats-dogs.</text>
</svg>
</body></html>
